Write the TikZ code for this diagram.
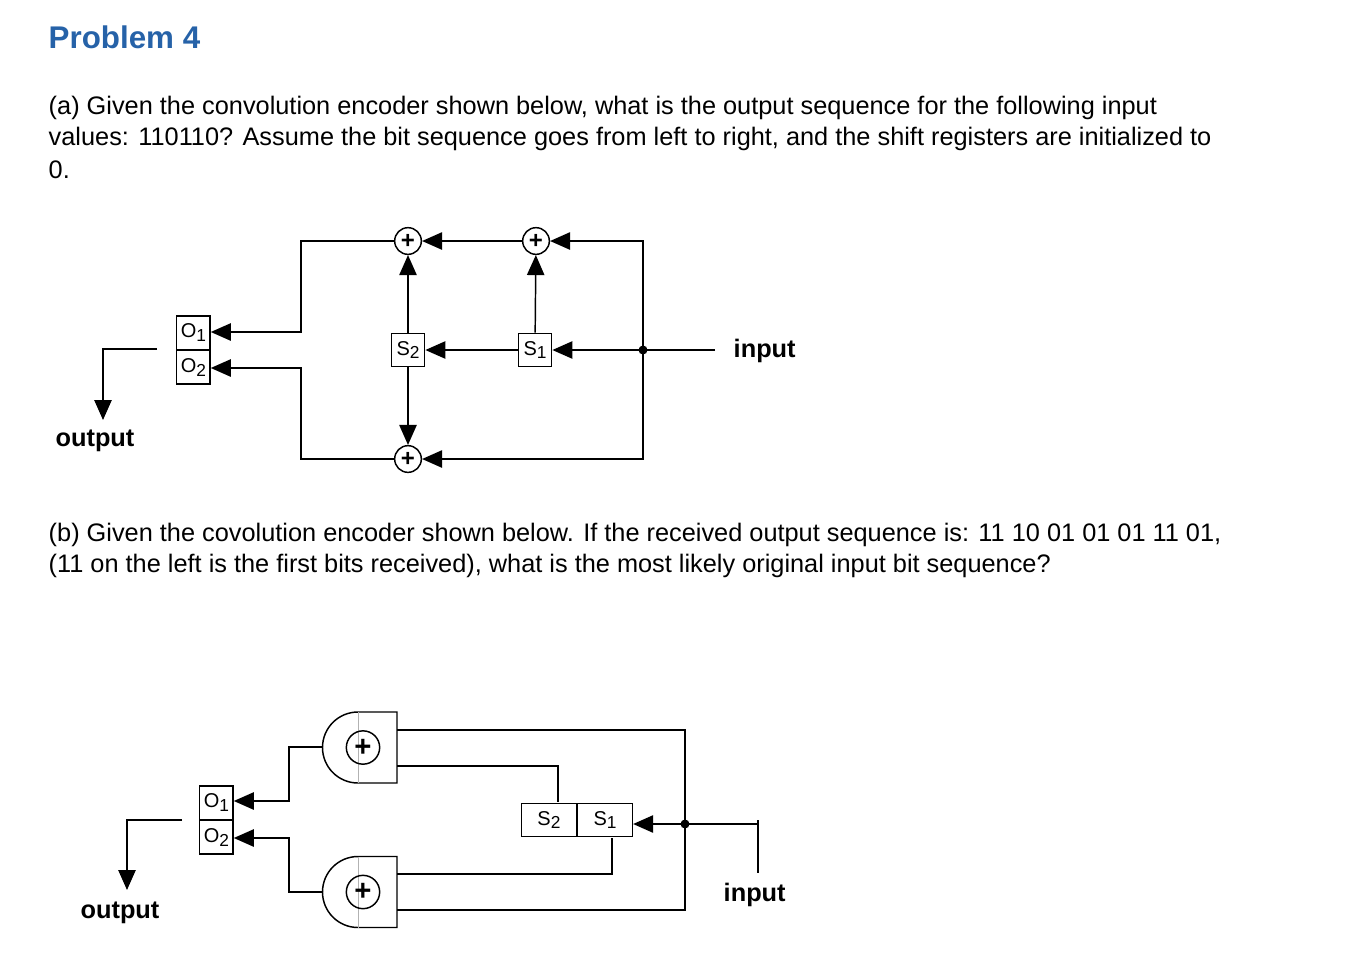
\documentclass[tikz,border=0pt]{standalone}
\usepackage{fontspec}
\setmainfont{Liberation Sans}
\usetikzlibrary{arrows.meta,calc}
\definecolor{titleblue}{RGB}{38,98,168}
\tikzset{
  tri/.style={-{Triangle[length=15pt,width=13pt]}},
  reg/.style={draw,minimum width=25pt,minimum height=25pt,inner sep=0pt,font=\fontsize{15pt}{17pt}\selectfont},
  add/.style={draw,circle,minimum size=20pt,inner sep=0pt,font=\fontsize{18pt}{18pt}\selectfont\bfseries},
  txt/.style={anchor=west,inner sep=0pt,font=\fontsize{19pt}{22pt}\selectfont},
  lbl/.style={inner sep=0pt,font=\fontsize{19pt}{22pt}\selectfont\bfseries}
}
\newcommand{\sub}[1]{\raisebox{-0.35ex}{\fontsize{13pt}{13pt}\selectfont #1}}
\begin{document}
\begin{tikzpicture}[x=0.75pt,y=0.75pt,yscale=-1,xscale=1,line width=1.1pt]
\useasboundingbox (0,0) rectangle (1372,972);

% Text
\node[anchor=west,inner sep=0pt,font=\fontsize{23.5pt}{26pt}\selectfont\bfseries,text=titleblue] (title) at (48,37) {Problem 4};
\node[txt] (qa1) at (48,108) {(a) Given the convolution encoder shown below, what is the output sequence for the following input};
\node[txt] (qa2) at (48,139) {values: 110110? Assume the bit sequence goes from left to right, and the shift registers are initialized to};
\node[txt] (qa3) at (48,170) {0.};
\node[txt] (qb1) at (48,535) {(b) Given the covolution encoder shown below. If the received output sequence is: 11 10 01 01 01 11 01,};
\node[txt] (qb2) at (48,566) {(11 on the left is the first bits received), what is the most likely original input bit sequence?};

% Encoder (a)
\node[add] (a1) at (408,241) {+};
\node[add] (a2) at (536,241) {+};
\node[add] (a3) at (408,459) {+};
\node[reg] (s2) at (408,350) {S\sub{2}};
\node[reg] (s1) at (535,350) {S\sub{1}};
\node[reg,anchor=south west] (o1) at (176,350) {O\sub{1}};
\node[reg,anchor=north west] (o2) at (176,350) {O\sub{2}};
\coordinate (in) at (643,350);
\coordinate (inend) at (715,350);
\fill (in) circle (4.5);
\draw (inend) -- (in);
\draw[tri] (in) -- (s1);
\draw[tri] (s1) -- (s2);
\draw[tri] (s2) -- (a1);
\draw[tri] (s1) -- (a2);
\draw[tri] (s2) -- (a3);
\draw[tri] (in) |- (a2);
\draw[tri] (in) |- (a3);
\draw[tri] (a2) -- (a1);
\draw[tri] (a1) -| (301,332) -- (o1.east |- 0,332);
\draw[tri] (a3) -| (301,368) -- (o2.east |- 0,368);
\draw[tri] (157,349) -| (103,420);
\node[lbl,anchor=west] (ina) at (733,351) {input};
\node[lbl] (outa) at (95,441) {output};

% Encoder (b)
\foreach \n/\y in {b1/747.5,b3/892} {
  \draw (397,\y-35.5) -- (358,\y-35.5) arc[start angle=270,end angle=90,radius=35.5] -- (397,\y+35.5) -- cycle;
  \draw[gray!60,line width=0.6pt] (358,\y-35.5) -- (358,\y+35.5);
  \node[add,minimum size=25pt,font=\fontsize{22pt}{22pt}\selectfont\bfseries] (\n) at (363,\y) {+};
}
\node[reg,minimum width=41pt,anchor=east] (r2) at (577,820) {S\sub{2}};
\node[reg,minimum width=41pt,anchor=west] (r1) at (577,820) {S\sub{1}};
\node[reg,anchor=south west] (p1) at (199,820) {O\sub{1}};
\node[reg,anchor=north west] (p2) at (199,820) {O\sub{2}};
\coordinate (jn) at (685,824);
\coordinate (jnend) at (758,824);
\fill (jn) circle (4.5);
\draw (jnend) -- (jn);
\draw (758,820) -- (758,873);
\draw[tri] (jn) -- (r1.east |- jn);
\draw (397,730) -| (jn) |- (397,910);
\draw (397,766) -| (558,802);
\draw (612,838) |- (397,874);
\draw[tri] (322,747) -| (289,801) -- (p1.east |- 0,801);
\draw[tri] (322,892) -| (289,838) -- (p2.east |- 0,838);
\draw[tri] (182,820) -| (127,890);
\node[lbl,anchor=west] (inb) at (723,895) {input};
\node[lbl] (outb) at (120,913) {output};
\end{tikzpicture}
\end{document}
